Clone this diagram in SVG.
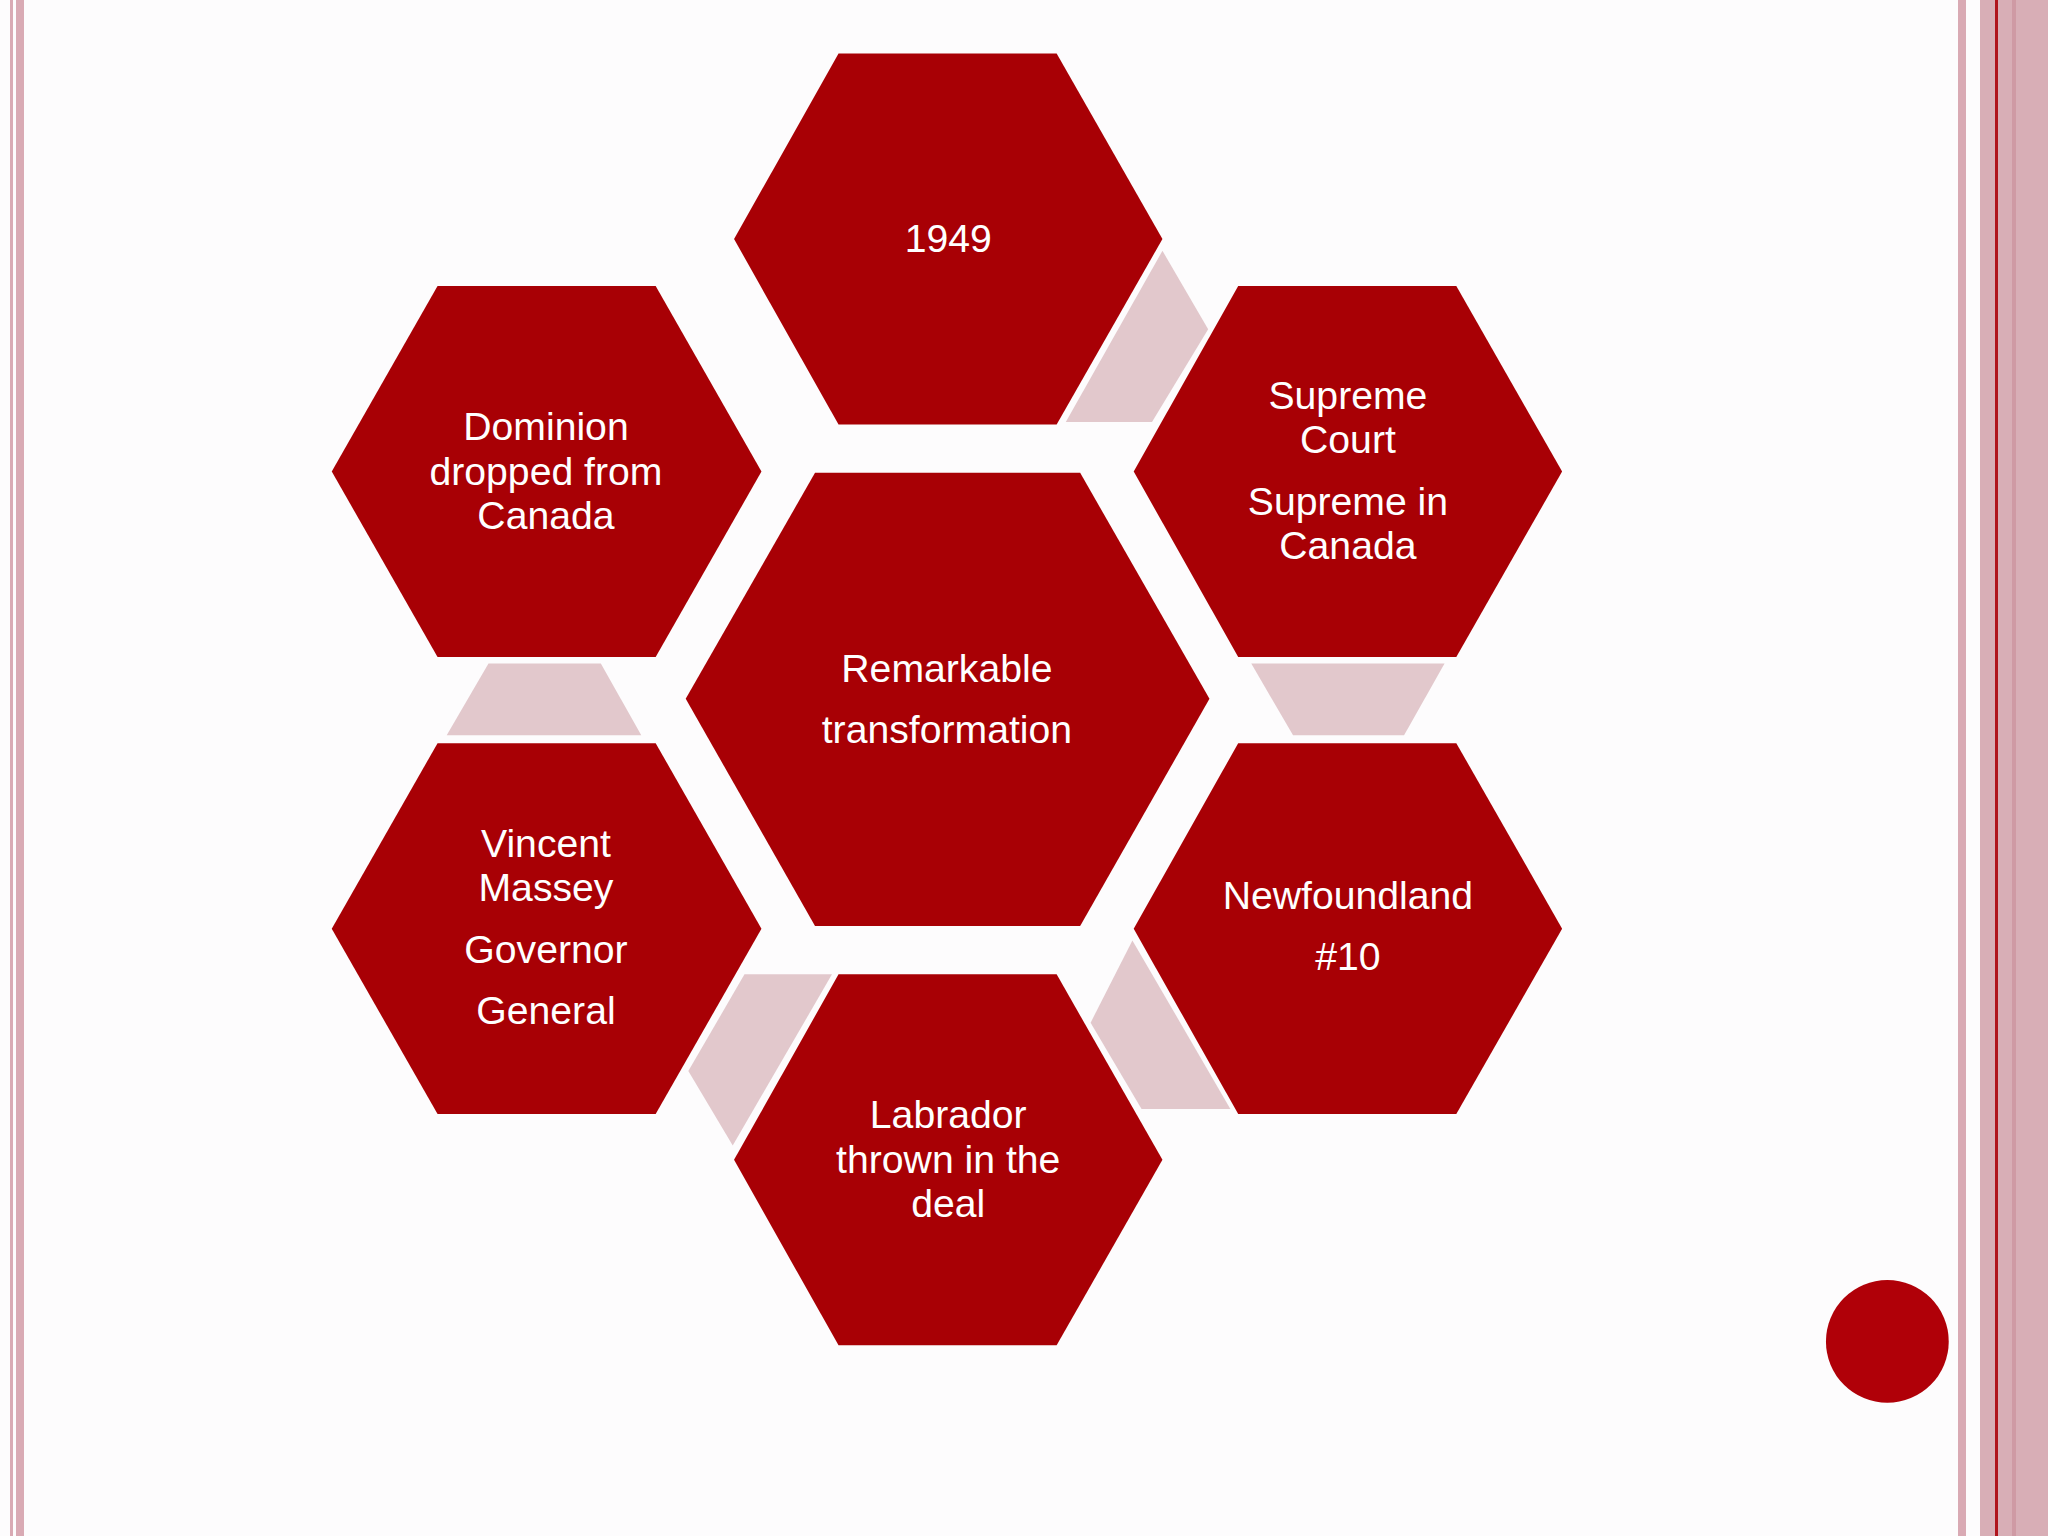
<svg xmlns="http://www.w3.org/2000/svg" width="2048" height="1536" viewBox="0 0 2048 1536">
<style>
.hex{fill:#a80005}
.con{fill:#e2c8cc}
text{font-family:"Liberation Sans",Arial,sans-serif;font-size:30px;fill:#fff;text-anchor:middle}
</style>
<rect width="2048" height="1536" fill="#fdfcfd"/>
<rect x="10" y="0" width="3" height="1536" fill="#d9aab4"/>
<rect x="16" y="0" width="8" height="1536" fill="#d9aab4"/>
<rect x="1958" y="0" width="8" height="1536" fill="#d9aab4"/>
<rect x="1980" y="0" width="68" height="1536" fill="#d8aeb6"/>
<rect x="1995" y="0" width="3" height="1536" fill="#b0141c"/>
<rect x="2012" y="0" width="4" height="1536" fill="#cf9aa4"/>
<g transform="scale(1.30612)">
<g id="connectors">
<polygon class="con" points="890,192 925,252 882,323 816,323"/>
<polygon class="con" points="958,508 1106,508 1075,563 990,563"/>
<polygon class="con" points="867,720 942,849 874,849 835,783"/>
<polygon class="con" points="570,746 637,746 561,877 527,820"/>
<polygon class="con" points="374,508 460,508 491,563 342,563"/>
</g>
<g id="n1949"><polygon class="hex" points="642,41 809,41 890,183 809,325 642,325 562,183"/><text x="726" y="193">1949</text></g>
<g id="center"><polygon class="hex" points="624,362 827,362 926,535 827,709 624,709 525,535"/><text x="725" y="522">Remarkable</text><text x="725" y="569">transformation</text></g>
<g id="dominion"><polygon class="hex" points="335,219 502,219 583,361 502,503 335,503 254,361"/><text x="418" y="337">Dominion</text><text x="418" y="371">dropped from</text><text x="418" y="405">Canada</text></g>
<g id="supreme"><polygon class="hex" points="948,219 1115,219 1196,361 1115,503 948,503 868,361"/><text x="1032" y="313">Supreme</text><text x="1032" y="347">Court</text><text x="1032" y="394">Supreme in</text><text x="1032" y="428">Canada</text></g>
<g id="massey"><polygon class="hex" points="335,569 502,569 583,711 502,853 335,853 254,711"/><text x="418" y="656">Vincent</text><text x="418" y="690">Massey</text><text x="418" y="737">Governor</text><text x="418" y="784">General</text></g>
<g id="newfoundland"><polygon class="hex" points="948,569 1115,569 1196,711 1115,853 948,853 868,711"/><text x="1032" y="696">Newfoundland</text><text x="1032" y="743">#10</text></g>
<g id="labrador"><polygon class="hex" points="642,746 809,746 890,888 809,1030 642,1030 562,888"/><text x="726" y="864">Labrador</text><text x="726" y="898">thrown in the</text><text x="726" y="932">deal</text></g>
<circle cx="1445" cy="1027" r="47" fill="#b00008"/>
</g>
</svg>
